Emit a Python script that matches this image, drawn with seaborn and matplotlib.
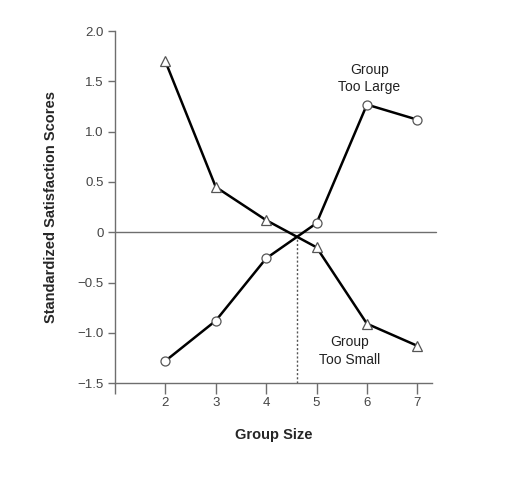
import matplotlib
matplotlib.use("Agg")
import matplotlib.pyplot as plt
import numpy as np
import seaborn as sns

# group sizes and standardized scores
group_size = [2, 3, 4, 5, 6, 7]
too_small = [1.70, 0.45, 0.12, -0.15, -0.91, -1.13]
too_large = [-1.28, -0.88, -0.26, 0.09, 1.27, 1.12]

y_ticks = [-1.5, -1.0, -0.5, 0, 0.5, 1.0, 1.5, 2.0]
y_labels = ["\u22121.5", "\u22121.0", "\u22120.5", "0", "0.5", "1.0", "1.5", "2.0"]
x_ticks = [1, 2, 3, 4, 5, 6, 7]
x_labels = ["", "2", "3", "4", "5", "6", "7"]

sns.set_style("white")
plt.rcParams["font.family"] = ["Liberation Sans", "DejaVu Sans"]

fig = plt.figure(figsize=(5.12, 4.78), dpi=100)
ax = fig.add_axes([0.2246, 0.1987, 0.620, 0.736])

gray = "#6e6e6e"
ax.axhline(0, color=gray, lw=1, xmax=1.01, clip_on=False, zorder=1)

# crossover point of the two lines between size 4 and 5
i = 2
d0 = too_small[i] - too_large[i]
d1 = too_small[i + 1] - too_large[i + 1]
t = d0 / (d0 - d1)
cross_x = group_size[i] + t
cross_y = too_small[i] + t * (too_small[i + 1] - too_small[i])
ax.plot([cross_x, cross_x], [-1.5, cross_y], color="#555555", lw=1, ls=(0, (1.5, 1.5)), zorder=1)

mk = dict(markerfacecolor="white", markeredgecolor="#555555", markeredgewidth=0.9,
          markersize=6.5, color="black", linewidth=1.8)
sns.lineplot(x=group_size, y=too_small, marker="^", ax=ax, zorder=3, **mk)
sns.lineplot(x=group_size, y=too_large, marker="o", ax=ax, zorder=3, **mk)

ax.text(6.05, 1.53, "Group\nToo Large", ha="center", va="center", fontsize=10,
        color="#222222", linespacing=1.3)
ax.text(5.66, -1.18, "Group\nToo Small", ha="center", va="center", fontsize=10,
        color="#222222", linespacing=1.3)

ax.set_xlim(1, 7.3)
ax.set_ylim(-1.5, 2.0)
ax.set_xticks(x_ticks)
ax.set_xticklabels(x_labels)
ax.set_yticks(y_ticks)
ax.set_yticklabels(y_labels)

for s in ["top", "right"]:
    ax.spines[s].set_visible(False)
for s in ["left", "bottom"]:
    ax.spines[s].set_color(gray)
    ax.spines[s].set_linewidth(1)

ax.tick_params(axis="y", direction="out", length=5, width=1, color=gray,
               labelsize=9.5, labelcolor="#444444", pad=3, left=True)
ax.tick_params(axis="x", direction="out", length=8, width=1, color=gray,
               labelsize=9.5, labelcolor="#444444", pad=2, bottom=True)

ax.set_xlabel("Group Size", fontsize=10.5, fontweight="bold", labelpad=14)
ax.set_ylabel("Standardized Satisfaction Scores", fontsize=10.5, fontweight="bold", labelpad=14)

fig.savefig("out.png", dpi=100)
